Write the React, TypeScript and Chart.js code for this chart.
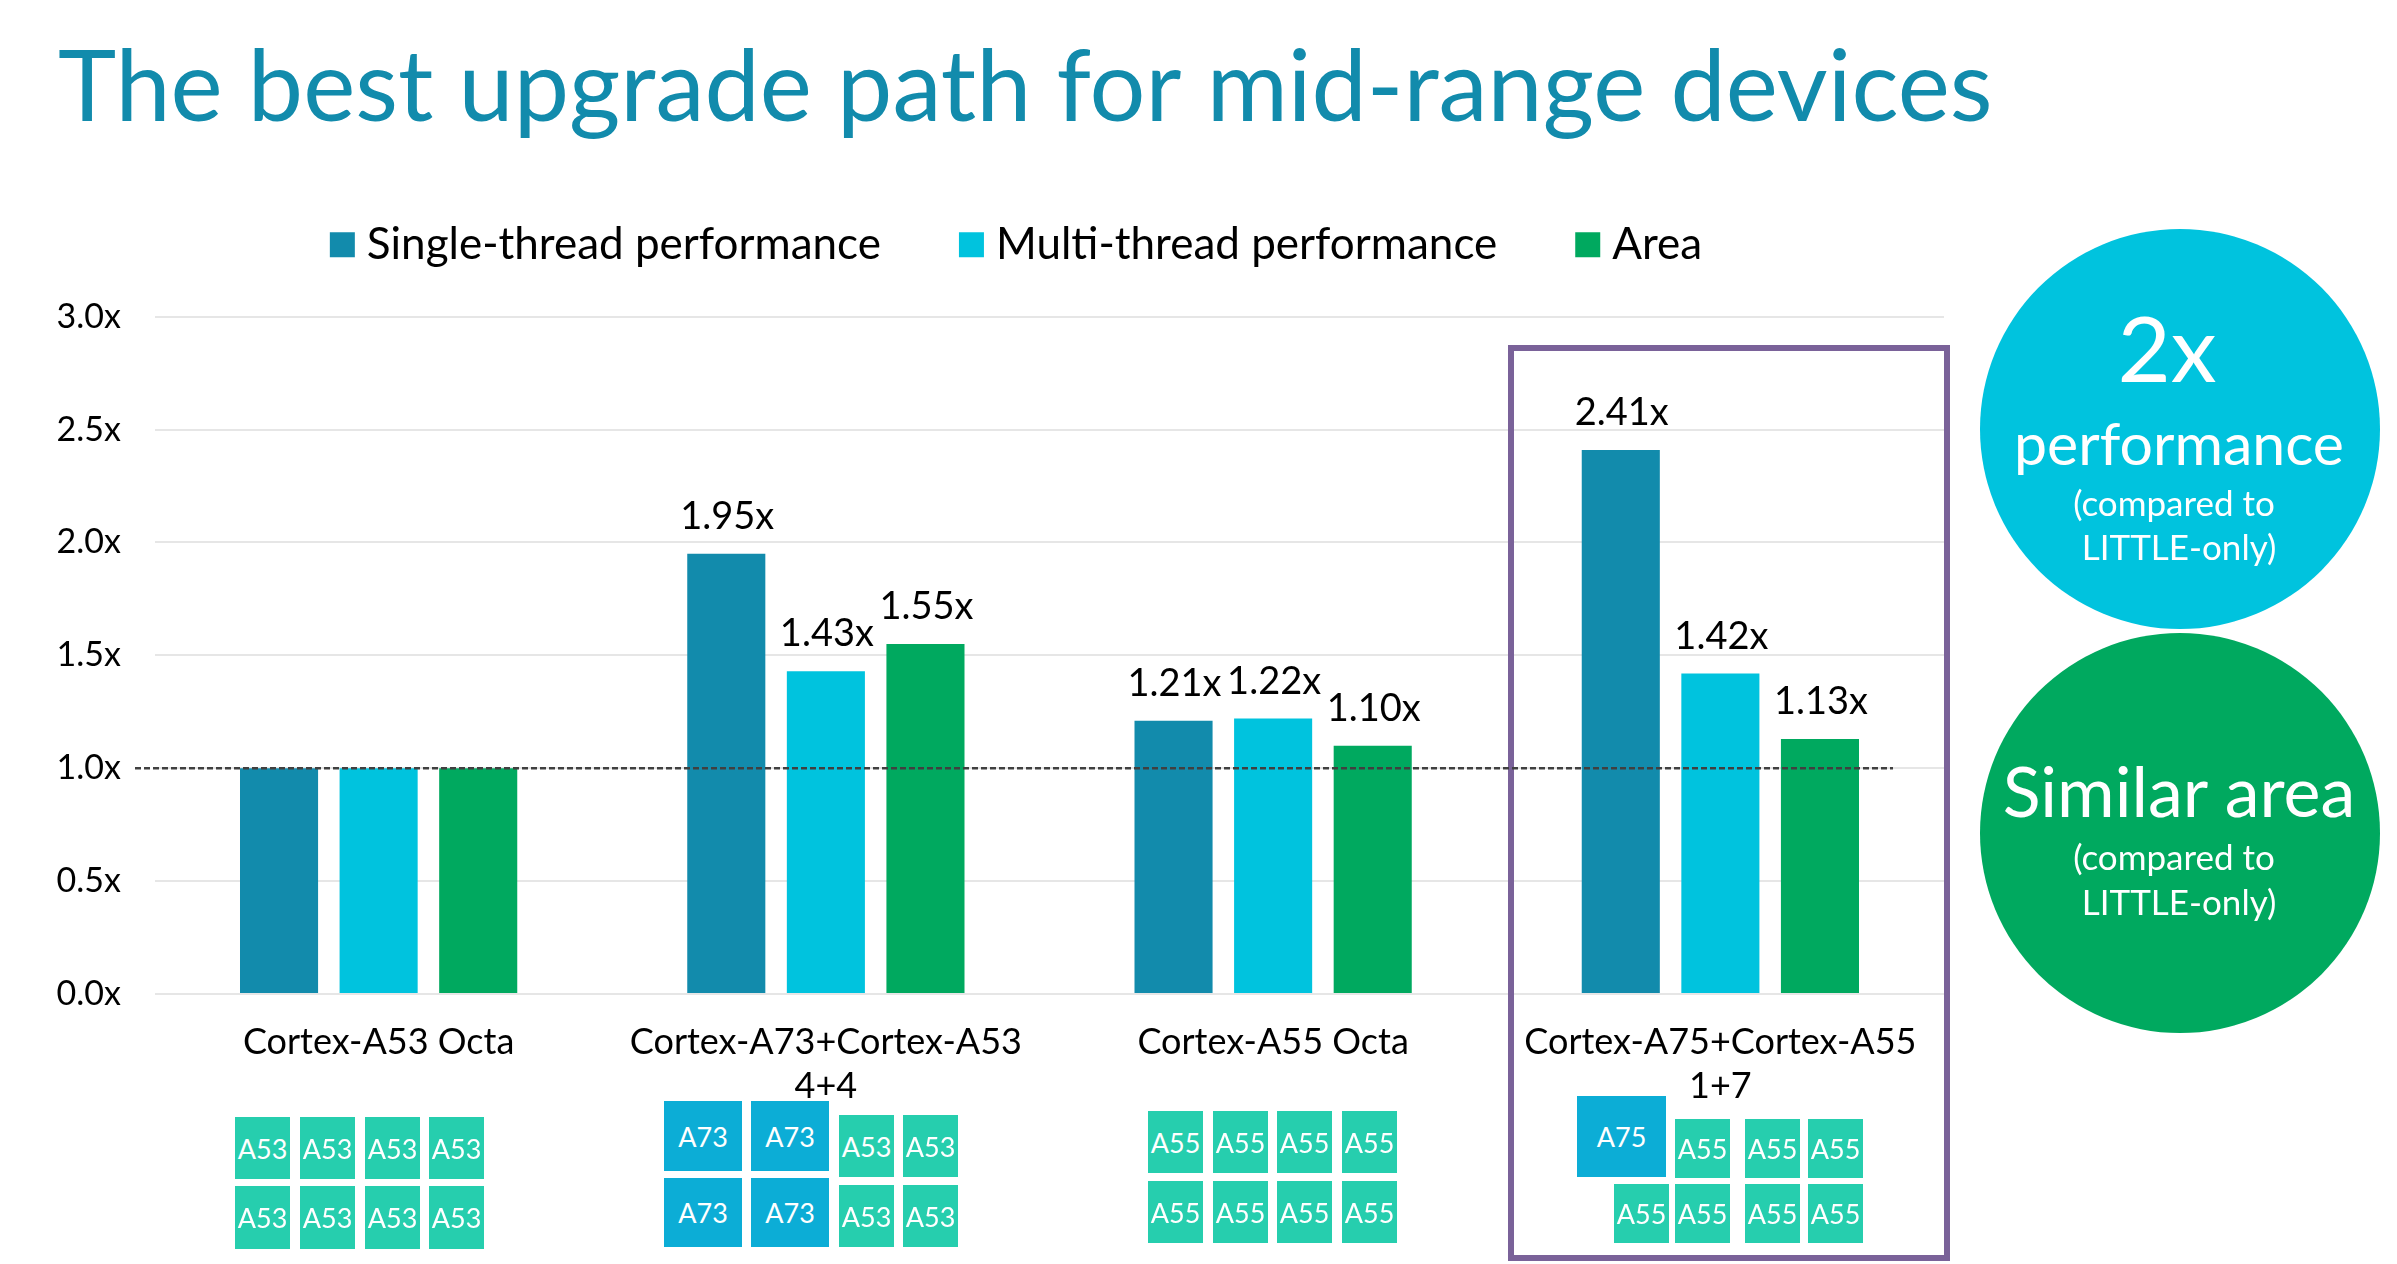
import { useEffect, useRef } from "react";
import { Chart, registerables, type Plugin } from "chart.js";

Chart.register(...registerables);

const FONT = "Lato";
const TEAL = "#128BAC";
const CYAN = "#00C3DE";
const GREEN = "#00A95F";
const CHIP_GREEN = "#26CEAE";
const CHIP_BLUE = "#0CADD6";

const titleText = "The best upgrade path for mid-range devices";
const categories = [
  "Cortex-A53 Octa",
  ["Cortex-A73+Cortex-A53", "4+4"],
  "Cortex-A55 Octa",
  ["Cortex-A75+Cortex-A55", "1+7"],
];
const singleThread = [1.0, 1.95, 1.21, 2.41];
const multiThread = [1.0, 1.43, 1.22, 1.42];
const area = [1.0, 1.55, 1.1, 1.13];
const labelledGroups = [false, true, true, true];
const referenceLevel = 1.0;

// [x, y, w, h, text, colour] of the little core diagrams under the axis
const chips: [number, number, number, number, string, string][] = [
  ...[235, 300, 365, 429].flatMap((x) => [
    [x, 1117, 55, 62, "A53", CHIP_GREEN],
    [x, 1186, 55, 63, "A53", CHIP_GREEN],
  ]),
  ...[664, 751].flatMap((x) => [
    [x, 1101, 78, 70, "A73", CHIP_BLUE],
    [x, 1178, 78, 69, "A73", CHIP_BLUE],
  ]),
  ...[839, 903].flatMap((x) => [
    [x, 1115, 55, 62, "A53", CHIP_GREEN],
    [x, 1185, 55, 62, "A53", CHIP_GREEN],
  ]),
  ...[1148, 1213, 1277, 1342].flatMap((x) => [
    [x, 1111, 55, 62, "A55", CHIP_GREEN],
    [x, 1181, 55, 62, "A55", CHIP_GREEN],
  ]),
  [1577, 1096, 89, 81, "A75", CHIP_BLUE],
  ...[1675, 1745, 1808].flatMap((x) => [
    [x, 1119, 55, 59, "A55", CHIP_GREEN],
    [x, 1184, 55, 59, "A55", CHIP_GREEN],
  ]),
  [1614, 1184, 55, 59, "A55", CHIP_GREEN],
] as [number, number, number, number, string, string][];

// [text, centre x, centre y, font size]
const circleTexts: [string, number, number, number][] = [
  ["2x", 2167, 347, 92],
  ["performance", 2179, 442, 59],
  ["(compared to", 2174, 502, 35],
  ["LITTLE-only)", 2179, 546, 35],
  ["Similar area", 2179, 790, 70],
  ["(compared to", 2174, 856, 35],
  ["LITTLE-only)", 2179, 901, 35],
];

const adjustBlocks: Plugin<"bar"> = {
  id: "adjustBlocks",
  afterLayout(chart) {
    const legend = chart.legend as any;
    legend.left += 49;
    legend.right += 49;
    legend.top -= 40;
    legend.bottom -= 40;
    const title = (chart as any).titleBlock;
    title.left = 58;
    title.right = chart.width;
  },
};

const highlight: Plugin<"bar"> = {
  id: "highlight",
  beforeDatasetsDraw(chart) {
    const { ctx } = chart;
    ctx.save();
    ctx.strokeStyle = "#7A6299";
    ctx.lineWidth = 6;
    ctx.strokeRect(1511, 348, 436, 910);
    ctx.restore();
  },
};

const valueLabels: Plugin<"bar"> = {
  id: "valueLabels",
  afterDatasetsDraw(chart) {
    const { ctx } = chart;
    ctx.save();
    ctx.font = `38px ${FONT}`;
    ctx.fillStyle = "#000";
    ctx.textAlign = "center";
    ctx.textBaseline = "middle";
    chart.data.datasets.forEach((ds, i) => {
      chart.getDatasetMeta(i).data.forEach((bar, j) => {
        if (!labelledGroups[j]) return;
        ctx.fillText(`${(ds.data[j] as number).toFixed(2)}x`, bar.x + 1, bar.y - 37);
      });
    });
    // dashed 1.0x level runs a little past the plot on the left
    const y = chart.scales.y.getPixelForValue(referenceLevel);
    ctx.strokeStyle = "#404040";
    ctx.lineWidth = 2.5;
    ctx.setLineDash([6, 3]);
    ctx.beginPath();
    ctx.moveTo(135, y);
    ctx.lineTo(1893, y);
    ctx.stroke();
    ctx.restore();
  },
};

export default function App() {
  const canvasRef = useRef<HTMLCanvasElement>(null);

  useEffect(() => {
    if (!canvasRef.current) return;
    const chart = new Chart(canvasRef.current, {
      type: "bar",
      data: {
        labels: categories as any,
        datasets: [
          { label: "Single-thread performance", data: singleThread, backgroundColor: TEAL },
          { label: "Multi-thread performance", data: multiThread, backgroundColor: CYAN },
          { label: "Area", data: area, backgroundColor: GREEN },
        ],
      },
      options: {
        responsive: false,
        animation: false,
        devicePixelRatio: 1,
        layout: { padding: { left: 0, right: 453, top: 40, bottom: 0 } },
        datasets: { bar: { categoryPercentage: 0.668, barPercentage: 0.784 } },
        plugins: {
          title: {
            display: true,
            text: titleText,
            align: "start",
            color: TEAL,
            font: { family: FONT, size: 98.7, weight: "normal", lineHeight: 1 },
            padding: { top: 0, bottom: 36 },
          },
          legend: {
            position: "top",
            labels: {
              // small box plus a heavy stroke: keeps the text close to the swatch
              boxWidth: 5,
              boxHeight: 5,
              padding: 88,
              color: "#000",
              font: { family: FONT, size: 44 },
              generateLabels: (chart) =>
                Chart.defaults.plugins.legend.labels.generateLabels(chart).map((item) => ({
                  ...item,
                  lineWidth: 20,
                  strokeStyle: item.fillStyle as string,
                })),
            },
          },
          tooltip: { enabled: false },
        },
        scales: {
          x: {
            grid: { display: false },
            border: { display: false },
            afterFit: (axis) => {
              axis.height = 270;
            },
            ticks: {
              color: "#000",
              padding: 18,
              maxRotation: 0,
              autoSkip: false,
              font: { family: FONT, size: 36, lineHeight: 1.23 },
            },
          },
          y: {
            min: 0,
            max: 3,
            grid: { color: "#E6E6E6", lineWidth: 2, drawTicks: false },
            border: { display: false },
            afterFit: (axis) => {
              axis.width = 155;
            },
            ticks: {
              stepSize: 0.5,
              color: "#000",
              padding: 34,
              font: { family: FONT, size: 34 },
              callback: (v) => `${Number(v).toFixed(1)}x`,
            },
          },
        },
      },
      plugins: [adjustBlocks, highlight, valueLabels],
    });
    return () => chart.destroy();
  }, []);

  return (
    <div style={{ position: "absolute", left: 0, top: 0, width: 2397, height: 1264, overflow: "hidden", background: "#fff", fontFamily: FONT }}>
      <canvas ref={canvasRef} width={2397} height={1264} style={{ position: "absolute", left: 0, top: 0 }} />
      {[
        [2180, 429, CYAN],
        [2180, 833, GREEN],
      ].map(([x, y, c]) => (
        <div
          key={String(y)}
          style={{
            position: "absolute",
            left: (x as number) - 200,
            top: (y as number) - 200,
            width: 400,
            height: 400,
            borderRadius: "50%",
            background: c as string,
          }}
        />
      ))}
      {circleTexts.map(([text, x, y, size]) => (
        <div
          key={`${text}${y}`}
          style={{
            position: "absolute",
            left: x,
            top: y,
            transform: "translate(-50%, -50%)",
            color: "#fff",
            fontSize: size,
            lineHeight: 1,
            whiteSpace: "nowrap",
          }}
        >
          {text}
        </div>
      ))}
      {chips.map(([x, y, w, h, text, color]) => (
        <div
          key={`${x}-${y}`}
          style={{
            position: "absolute",
            left: x,
            top: y,
            width: w,
            height: h,
            background: color,
            color: "#fff",
            fontSize: 27,
            display: "flex",
            alignItems: "center",
            justifyContent: "center",
          }}
        >
          {text}
        </div>
      ))}
    </div>
  );
}
